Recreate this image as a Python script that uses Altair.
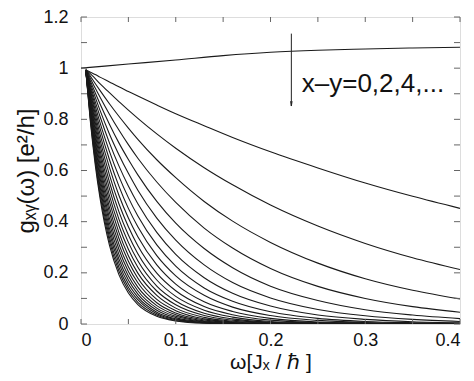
import altair as alt
import pandas as pd

# ---- data ----
x_grid = [0.005, 0.01, 0.015, 0.02, 0.03, 0.04, 0.05, 0.06, 0.08, 0.1, 0.13, 0.16, 0.2, 0.25, 0.3, 0.35, 0.4]

g_d0_x = [0.0, 0.05, 0.1, 0.15, 0.2, 0.25, 0.3, 0.35, 0.4]
g_d0 = [1.0, 1.016, 1.032, 1.049, 1.062, 1.07, 1.075, 1.079, 1.082]

g_d2 = [0.993, 0.984, 0.975, 0.965, 0.946, 0.927, 0.909, 0.891, 0.856, 0.822, 0.775, 0.729, 0.673, 0.61, 0.551, 0.499, 0.452]
g_d4 = [0.993, 0.978, 0.959, 0.94, 0.904, 0.869, 0.836, 0.804, 0.743, 0.687, 0.611, 0.544, 0.465, 0.383, 0.315, 0.259, 0.213]
g_d6 = [0.993, 0.968, 0.94, 0.913, 0.861, 0.812, 0.766, 0.722, 0.642, 0.572, 0.479, 0.402, 0.319, 0.238, 0.177, 0.132, 0.098]
g_d8 = [0.993, 0.959, 0.922, 0.887, 0.82, 0.758, 0.701, 0.648, 0.555, 0.475, 0.375, 0.297, 0.217, 0.147, 0.1, 0.068, 0.046]
g_d10 = [0.993, 0.949, 0.904, 0.861, 0.781, 0.708, 0.643, 0.583, 0.479, 0.394, 0.295, 0.22, 0.148, 0.092, 0.056, 0.035, 0.021]
g_d12 = [0.993, 0.94, 0.887, 0.836, 0.743, 0.662, 0.589, 0.523, 0.414, 0.328, 0.231, 0.162, 0.102, 0.057, 0.032, 0.018, 0.01]
g_d14 = [0.993, 0.931, 0.869, 0.812, 0.708, 0.618, 0.539, 0.47, 0.358, 0.272, 0.181, 0.12, 0.07, 0.035, 0.018, 0.009, 0.005]
g_d16 = [0.993, 0.922, 0.853, 0.788, 0.675, 0.577, 0.494, 0.422, 0.309, 0.226, 0.141, 0.089, 0.048, 0.022, 0.01, 0.005, 0.003]
g_d18 = [0.993, 0.913, 0.836, 0.766, 0.643, 0.539, 0.452, 0.38, 0.267, 0.188, 0.112, 0.066, 0.033, 0.014, 0.006, 0.003, 0.002]
g_d20 = [0.993, 0.904, 0.82, 0.743, 0.612, 0.503, 0.414, 0.341, 0.231, 0.156, 0.087, 0.049, 0.022, 0.008, 0.004, 0.002, 0.002]
g_d22 = [0.993, 0.895, 0.804, 0.722, 0.583, 0.47, 0.38, 0.306, 0.199, 0.13, 0.068, 0.036, 0.015, 0.006, 0.003, 0.002, 0.001]
g_d24 = [0.993, 0.887, 0.788, 0.701, 0.555, 0.439, 0.348, 0.275, 0.172, 0.108, 0.054, 0.027, 0.01, 0.004, 0.002, 0.001, 0.001]
g_d26 = [0.993, 0.878, 0.773, 0.681, 0.529, 0.41, 0.319, 0.247, 0.148, 0.09, 0.042, 0.02, 0.007, 0.003, 0.002, 0.001, 0.001]
g_d28 = [0.993, 0.869, 0.758, 0.662, 0.503, 0.384, 0.292, 0.222, 0.129, 0.075, 0.033, 0.015, 0.005, 0.002, 0.001, 0.001, 0.001]
g_d30 = [0.993, 0.861, 0.743, 0.643, 0.479, 0.358, 0.267, 0.199, 0.112, 0.062, 0.026, 0.011, 0.004, 0.002, 0.001, 0.001, 0.0]
g_d32 = [0.993, 0.853, 0.729, 0.624, 0.456, 0.335, 0.245, 0.179, 0.096, 0.052, 0.02, 0.008, 0.003, 0.001, 0.001, 0.0, 0.0]
g_d34 = [0.993, 0.844, 0.715, 0.606, 0.435, 0.312, 0.224, 0.161, 0.083, 0.043, 0.016, 0.006, 0.002, 0.001, 0.0, 0.0, 0.0]
g_d36 = [0.993, 0.836, 0.701, 0.589, 0.414, 0.292, 0.205, 0.144, 0.072, 0.036, 0.012, 0.004, 0.001, 0.0, 0.0, 0.0, 0.0]
g_d38 = [0.993, 0.828, 0.687, 0.572, 0.394, 0.272, 0.188, 0.13, 0.062, 0.03, 0.01, 0.003, 0.001, 0.0, 0.0, 0.0, 0.0]
g_d40 = [0.993, 0.82, 0.674, 0.555, 0.375, 0.254, 0.172, 0.117, 0.054, 0.025, 0.008, 0.002, 0.0, 0.0, 0.0, 0.0, 0.0]
g_d42 = [0.993, 0.812, 0.661, 0.539, 0.357, 0.238, 0.157, 0.105, 0.046, 0.02, 0.006, 0.002, 0.0, 0.0, 0.0, 0.0, 0.0]
g_d44 = [0.993, 0.804, 0.648, 0.523, 0.34, 0.222, 0.144, 0.095, 0.04, 0.017, 0.005, 0.001, 0.0, 0.0, 0.0, 0.0, 0.0]
g_d46 = [0.993, 0.796, 0.636, 0.507, 0.324, 0.207, 0.132, 0.085, 0.035, 0.014, 0.004, 0.001, 0.0, 0.0, 0.0, 0.0, 0.0]
g_d48 = [0.993, 0.788, 0.623, 0.494, 0.308, 0.193, 0.121, 0.076, 0.03, 0.012, 0.003, 0.001, 0.0, 0.0, 0.0, 0.0, 0.0]

decaying = [g_d2, g_d4, g_d6, g_d8, g_d10, g_d12, g_d14, g_d16, g_d18, g_d20, g_d22, g_d24,
            g_d26, g_d28, g_d30, g_d32, g_d34, g_d36, g_d38, g_d40, g_d42, g_d44, g_d46, g_d48]

x_tick_values = [0, 0.05, 0.1, 0.15, 0.2, 0.25, 0.3, 0.35, 0.4]
y_tick_values = [0, 0.1, 0.2, 0.3, 0.4, 0.5, 0.6, 0.7, 0.8, 0.9, 1.0, 1.1, 1.2]
x_label_values = [0, 0.1, 0.2, 0.3, 0.4]
y_label_values = [0, 0.2, 0.4, 0.6, 0.8, 1.0, 1.2]

arrow_x = [0.222]
arrow_top = [1.135]
arrow_bottom = [0.852]
note_x = [0.233]
note_y = [0.94]
note_text = ["x–y=0,2,4,..."]

# ---- build tables ----
rows = [{"x": x, "g": v, "curve": 0} for x, v in zip(g_d0_x, g_d0)]
for i, series in enumerate(decaying):
    for x, v in zip(x_grid, series):
        rows.append({"x": x, "g": v, "curve": 2 * (i + 1)})
df = pd.DataFrame(rows)

W, H = 379, 307
FONT = "Liberation Sans"
AXC = "#666666"

xs = alt.Scale(domain=[0, 0.4], nice=False, zero=False)
ys = alt.Scale(domain=[0, 1.2], nice=False, zero=False)

x_axis = alt.Axis(values=x_label_values, format="~g", title="ω[Jₓ / ℏ ]", ticks=False, tickSize=0,
                  domain=False, grid=False, labelFontSize=18, labelPadding=7, labelColor="#111",
                  titleFontSize=21, titleFontWeight="normal", titlePadding=2, titleColor="#111")
y_axis = alt.Axis(values=y_label_values, format="~g", title="gₓᵧ(ω) [e²/h]", ticks=False, tickSize=0,
                  domain=False, grid=False, labelFontSize=18, labelPadding=13, labelColor="#111",
                  titleFontSize=24, titleFontWeight="normal", titlePadding=4, titleColor="#111")


def X(field):
    return alt.X(f"{field}:Q", scale=xs, axis=x_axis)


def Y(field):
    return alt.Y(f"{field}:Q", scale=ys, axis=y_axis)


lines = alt.Chart(df).mark_line(color="#1a1a1a", strokeWidth=1.1, interpolate="monotone", clip=True).encode(
    x=X("x"), y=Y("g"), detail="curve:N"
)

xt = pd.DataFrame({"x": x_tick_values})
yt = pd.DataFrame({"g": y_tick_values})
tick_bottom = alt.Chart(xt).mark_rule(color=AXC, strokeWidth=1).encode(x=X("x"), y=alt.value(H), y2=alt.value(H - 5))
tick_top = alt.Chart(xt).mark_rule(color=AXC, strokeWidth=1).encode(x=X("x"), y=alt.value(0), y2=alt.value(5))
tick_left = alt.Chart(yt).mark_rule(color=AXC, strokeWidth=1).encode(y=Y("g"), x=alt.value(0), x2=alt.value(6))
tick_right = alt.Chart(yt).mark_rule(color=AXC, strokeWidth=1).encode(y=Y("g"), x=alt.value(W), x2=alt.value(W - 6))

arrow_df = pd.DataFrame({"x": arrow_x, "g": arrow_top, "g2": arrow_bottom})
arrow = alt.Chart(arrow_df).mark_rule(color="#222", strokeWidth=1).encode(x=X("x"), y=Y("g"), y2="g2:Q")
head_df = pd.DataFrame({"x": arrow_x, "g": arrow_bottom})
head = alt.Chart(head_df).mark_point(
    shape="M -0.25 -1.6 L 0 0 L 0.25 -1.6", size=36, filled=False, color="#222", strokeWidth=1, opacity=1
).encode(x=X("x"), y=Y("g"))

note_df = pd.DataFrame({"x": note_x, "g": note_y, "t": note_text})
note = alt.Chart(note_df).mark_text(align="left", baseline="middle", fontSize=26, font=FONT, color="#111").encode(
    x=X("x"), y=Y("g"), text="t:N"
)

chart = alt.layer(lines, tick_bottom, tick_top, tick_left, tick_right, arrow, head, note).properties(
    width=W, height=H,
    autosize=alt.AutoSizeParams(type="none"),
    padding={"left": 73, "top": 9, "right": 6, "bottom": 49},
).configure_view(stroke=AXC, strokeWidth=1).configure(font=FONT)

chart.save("out.html", embed_options={"renderer": "svg", "actions": False})
